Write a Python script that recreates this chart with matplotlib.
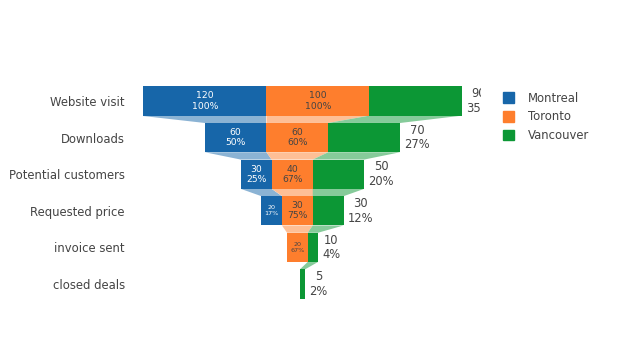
import matplotlib
matplotlib.use("Agg")
import matplotlib.pyplot as plt
from matplotlib.patches import Polygon, Patch

# Stages of the funnel (top to bottom)
stages = ["Website visit", "Downloads", "Potential customers",
          "Requested price", "invoice sent", "closed deals"]

# Values per city (missing stages are simply absent)
montreal = [120, 60, 30, 20]
toronto = [100, 60, 40, 30, 20]
vancouver = [90, 70, 50, 30, 10, 5]

cities = ["Montreal", "Toronto", "Vancouver"]
colors = ["#1766a9", "#fe7e2d", "#0c9735"]
light = ["#8bb3d4", "#febf96", "#86cb9a"]
text_colors = ["white", "#444444", "#444444"]

W, H = 623, 354
fig = plt.figure(figsize=(W / 100, H / 100), dpi=100)
ax = fig.add_axes([129 / W, 1 - 302.3 / H, (481 - 129) / W, (302.3 - 82.7) / H])

n = len(stages)
series = [montreal, toronto, vancouver]
padded = [s + [0] * (n - len(s)) for s in series]
totals = [sum(p[i] for p in padded) for i in range(n)]

# text for each trace: percent initial / percent previous / percent total
def pct_initial(vals):
    return [v / vals[0] for v in vals]

def pct_previous(vals):
    return [1.0] + [vals[i] / vals[i - 1] for i in range(1, len(vals))]

def pct_total(vals):
    return [v / sum(vals) for v in vals]

pcts = [pct_initial(montreal), pct_previous(toronto), pct_total(vancouver)]

bw = 0.8
px_per_unit = 1.029

# left edges of every segment (stack centred on 0)
lefts = []
for i in range(n):
    x = -totals[i] / 2
    row = []
    for p in padded:
        row.append(x)
        x += p[i]
    lefts.append(row)

for k, vals in enumerate(series):
    for i, v in enumerate(vals):
        l = lefts[i][k]
        ax.add_patch(plt.Rectangle((l, i - bw / 2), v, bw, color=colors[k], lw=0, zorder=2))
        # connector to next stage
        if i + 1 < len(vals):
            l2 = lefts[i + 1][k]
            v2 = vals[i + 1]
            ax.add_patch(Polygon([(l, i + bw / 2), (l + v, i + bw / 2),
                                  (l2 + v2, i + 1 - bw / 2), (l2, i + 1 - bw / 2)],
                                 closed=True, color=light[k], lw=0, zorder=1))
        label = f"{v}\n{pcts[k][i] * 100:.0f}%"
        if k == 2:
            ax.annotate(label, (l + v, i), xytext=(3, 0), textcoords="offset points",
                        ha="left", va="center", multialignment="center",
                        fontsize=8.3, color="#444444", linespacing=1.15,
                        annotation_clip=False, clip_on=True)
        else:
            wpx = v * px_per_unit
            fs = 6.7 if wpx > 25 else 4.6
            ax.text(l + v / 2, i, label, ha="center", va="center",
                    multialignment="center", fontsize=fs, color=text_colors[k],
                    linespacing=1.2, zorder=3)

ax.set_xlim(-168.6, 173.5)
ax.set_ylim(n - 0.5, -0.5)
ax.set_yticks(range(n))
ax.set_yticklabels(stages, fontsize=8.4, color="#444444")
ax.tick_params(axis="y", length=0, pad=3)
ax.set_xticks([])
for s in ax.spines.values():
    s.set_visible(False)

handles = [Patch(color=c) for c in colors]
fig.legend(handles, cities, loc="upper left", bbox_to_anchor=(492 / W, 1 - 81 / H),
           frameon=False, fontsize=8.4, handlelength=1.0, handleheight=1.0,
           handletextpad=1.2, labelspacing=0.5, labelcolor="#444444")

fig.savefig("out.png", dpi=100)
